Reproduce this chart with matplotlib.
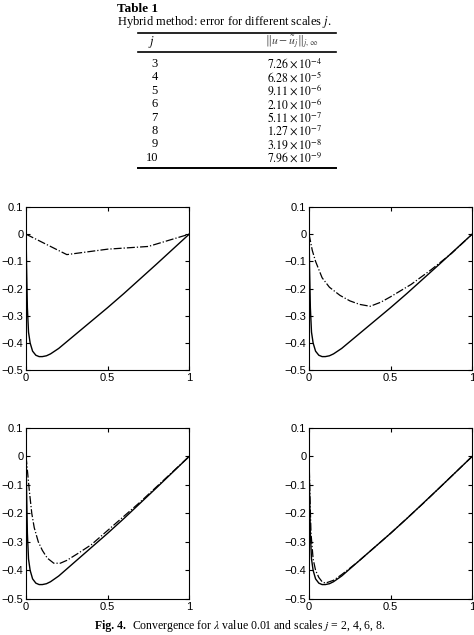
import matplotlib
matplotlib.use("Agg")
import matplotlib.pyplot as plt

plt.rcParams["mathtext.fontset"] = "stix"

# table values
scales_j = ["3", "4", "5", "6", "7", "8", "9", "10"]
errors = [r"$7.26\times10^{-4}$", r"$6.28\times10^{-5}$", r"$9.11\times10^{-6}$",
          r"$2.10\times10^{-6}$", r"$5.11\times10^{-7}$", r"$1.27\times10^{-7}$",
          r"$3.19\times10^{-8}$", r"$7.96\times10^{-9}$"]

# exact solution (solid)
x_exact = [0, 0.003, 0.008, 0.015, 0.025, 0.04, 0.06, 0.08, 0.1, 0.125, 0.15, 0.2, 0.25,
           0.3, 0.4, 0.5, 0.6, 0.7, 0.8, 0.9, 1.0]
y_exact = [0, -0.12, -0.27, -0.36, -0.40, -0.43, -0.445, -0.45, -0.45, -0.447, -0.44,
           -0.42, -0.395, -0.37, -0.32, -0.27, -0.218, -0.164, -0.11, -0.055, 0]

# approximations (dash-dot), scales 2, 4, 6, 8
x_j2 = [0, 0.25, 0.5, 0.75, 1.0]
y_j2 = [0, -0.075, -0.055, -0.045, 0]
x_j4 = [0, 0.02, 0.04, 0.08, 0.125, 0.19, 0.25, 0.31, 0.375, 0.44, 0.5, 0.625, 0.75, 0.875, 1.0]
y_j4 = [0, -0.06, -0.10, -0.16, -0.195, -0.225, -0.245, -0.258, -0.265, -0.25, -0.23,
        -0.185, -0.13, -0.07, 0]
x_j6 = [0, 0.01, 0.02, 0.035, 0.05, 0.075, 0.1, 0.13, 0.17, 0.21, 0.25, 0.32, 0.4, 0.55,
        0.7, 0.85, 1.0]
y_j6 = [0, -0.06, -0.12, -0.2, -0.25, -0.3, -0.33, -0.357, -0.375, -0.375, -0.365, -0.34,
        -0.31, -0.235, -0.16, -0.08, 0]
x_j8 = [0, 0.005, 0.012, 0.025, 0.04, 0.06, 0.08, 0.1, 0.15, 0.2, 0.3, 0.5, 0.7, 0.9, 1.0]
y_j8 = [0, -0.13, -0.27, -0.36, -0.40, -0.425, -0.44, -0.445, -0.435, -0.415, -0.37,
        -0.27, -0.165, -0.055, 0]

approx = [(x_j2, y_j2), (x_j4, y_j4), (x_j6, y_j6), (x_j8, y_j8)]

fig = plt.figure(figsize=(4.74, 6.35), dpi=100)
serif = "Liberation Serif"

W, H = 474, 635
def fx(px): return px / W
def fy(py): return 1 - py / H

# table
fig.text(fx(117), fy(9), "Table 1", family=serif, weight="bold", fontsize=9.5, va="center")
fig.text(fx(117), fy(22), "Hybrid method: error for different scales $j$.", family=serif,
         fontsize=9, va="center")
for py, lw in [(33, 1.2), (52, 1.2), (168, 1.4)]:
    fig.add_artist(plt.Line2D([fx(138), fx(336)], [fy(py), fy(py)], color="black", lw=lw))
fig.text(fx(152), fy(42), "$j$", fontsize=9, ha="center", va="center")
fig.text(fx(318), fy(42), r"$\|u-\tilde{u}_j\|_{j,\infty}$", fontsize=8.5, ha="right",
         va="center", color="#444444")
for i, (j, e) in enumerate(zip(scales_j, errors)):
    y = fy(64 + i * 13.4)
    fig.text(fx(158), y, j, family=serif, fontsize=9, ha="right", va="center")
    fig.text(fx(322), y, e, fontsize=8.5, ha="right", va="center")

# plots
positions = [[0.055, 0.417, 0.344, 0.257], [0.652, 0.417, 0.344, 0.257],
             [0.055, 0.057, 0.344, 0.269], [0.652, 0.057, 0.344, 0.269]]
for pos, (xa, ya) in zip(positions, approx):
    ax = fig.add_axes(pos)
    ax.plot(x_exact, y_exact, color="black", lw=1.0)
    ax.plot(xa, ya, color="black", lw=0.9, linestyle="-.")
    ax.set_xlim(0, 1)
    ax.set_ylim(-0.5, 0.1)
    ax.set_xticks([0, 0.5, 1])
    ax.set_xticklabels(["0", "0.5", "1"])
    ax.set_yticks([-0.5, -0.4, -0.3, -0.2, -0.1, 0, 0.1])
    ax.set_yticklabels(["\u22120.5", "\u22120.4", "\u22120.3", "\u22120.2", "\u22120.1", "0", "0.1"])
    ax.tick_params(direction="in", labelsize=8, length=3, top=True, right=True, pad=2)
    for lab in ax.get_xticklabels() + ax.get_yticklabels():
        lab.set_family("Liberation Sans")

fig.text(fx(95), fy(626), "Fig. 4.", family=serif, weight="bold", fontsize=8.5, va="center")
fig.text(fx(132), fy(626), r"Convergence for $\lambda$ value 0.01 and scales $j$ = 2, 4, 6, 8.",
         family=serif, fontsize=8.5, va="center")

fig.savefig("out.png", dpi=100)
